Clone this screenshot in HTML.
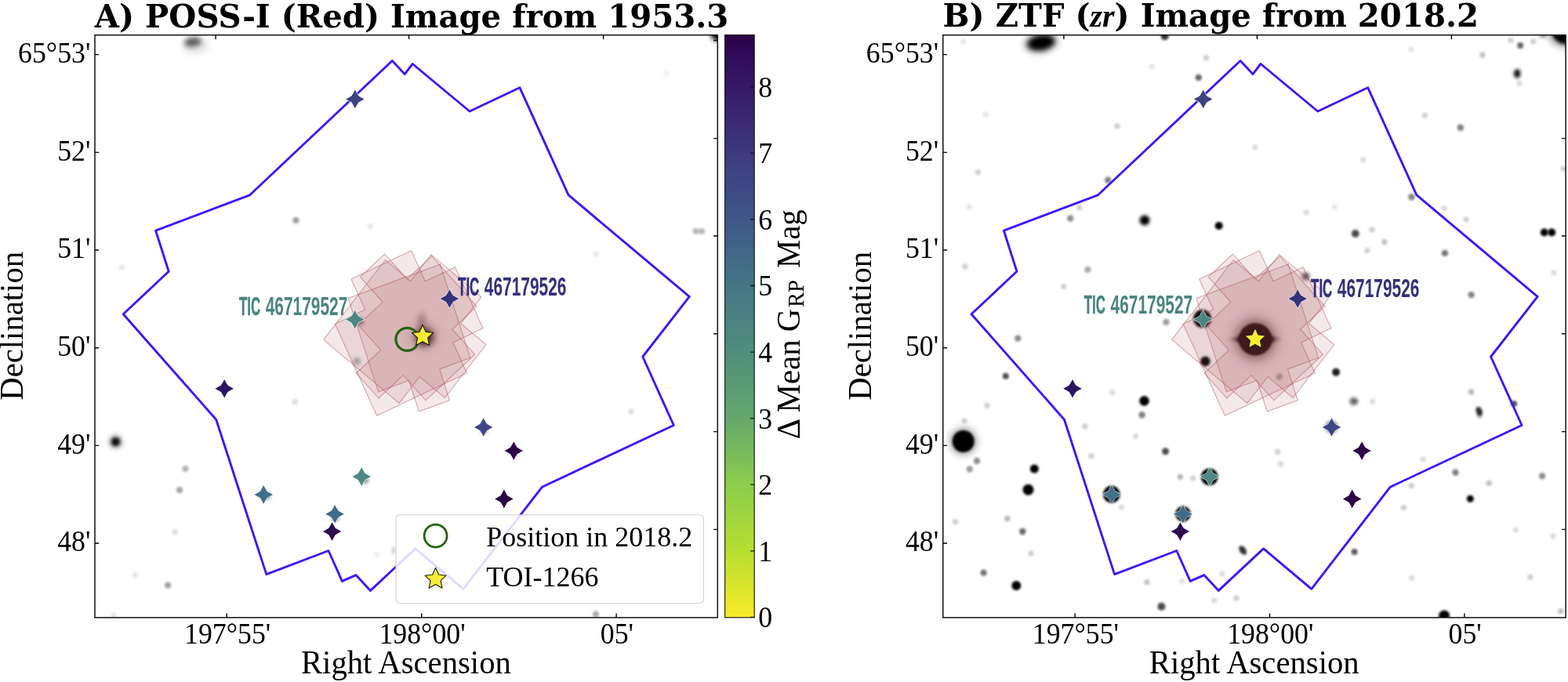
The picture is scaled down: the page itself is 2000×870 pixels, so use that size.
<!DOCTYPE html>
<html lang="en">
<head>
<meta charset="utf-8">
<title>TOI-1266: POSS-I and ZTF images</title>
<style>
html,body{margin:0;padding:0;background:#fff;}
body{width:2000px;height:870px;overflow:hidden;}
svg{display:block;}
</style>
</head>
<body>
<svg width="2000" height="870" viewBox="0 0 2000 870" role="img" aria-label="TOI-1266 finder charts">
<defs>
<filter id="b0_8" x="-100%" y="-100%" width="300%" height="300%"><feGaussianBlur stdDeviation="0.8"/></filter>
<filter id="b1_2" x="-100%" y="-100%" width="300%" height="300%"><feGaussianBlur stdDeviation="1.2"/></filter>
<filter id="b1_6" x="-100%" y="-100%" width="300%" height="300%"><feGaussianBlur stdDeviation="1.6"/></filter>
<filter id="b1_8" x="-100%" y="-100%" width="300%" height="300%"><feGaussianBlur stdDeviation="1.8"/></filter>
<filter id="b2_2" x="-100%" y="-100%" width="300%" height="300%"><feGaussianBlur stdDeviation="2.2"/></filter>
<filter id="b3" x="-100%" y="-100%" width="300%" height="300%"><feGaussianBlur stdDeviation="3"/></filter>
<filter id="b4_5" x="-100%" y="-100%" width="300%" height="300%"><feGaussianBlur stdDeviation="4.5"/></filter>
<filter id="b7" x="-100%" y="-100%" width="300%" height="300%"><feGaussianBlur stdDeviation="7"/></filter>
<clipPath id="cl"><rect x="121.0" y="44.7" width="794.3" height="743.0999999999999"/></clipPath>
<clipPath id="cr"><rect x="1202.8" y="44.7" width="794.3" height="743.0999999999999"/></clipPath>
<linearGradient id="cbg" x1="0" y1="0" x2="0" y2="1">
<stop offset="0.0000" stop-color="rgb(44,2,74)"/>
<stop offset="0.0442" stop-color="rgb(50,14,90)"/>
<stop offset="0.0898" stop-color="rgb(54,26,104)"/>
<stop offset="0.2035" stop-color="rgb(62,58,126)"/>
<stop offset="0.3173" stop-color="rgb(62,88,136)"/>
<stop offset="0.4311" stop-color="rgb(68,118,134)"/>
<stop offset="0.5449" stop-color="rgb(80,142,124)"/>
<stop offset="0.6587" stop-color="rgb(100,168,108)"/>
<stop offset="0.7724" stop-color="rgb(140,205,75)"/>
<stop offset="0.8293" stop-color="rgb(160,214,62)"/>
<stop offset="0.8862" stop-color="rgb(183,222,48)"/>
<stop offset="0.9431" stop-color="rgb(216,228,44)"/>
<stop offset="1.0000" stop-color="rgb(250,234,40)"/>
</linearGradient>
</defs>
<rect width="2000" height="870" fill="#fff"/>
<g id="left">
<g clip-path="url(#cl)">
<ellipse cx="246" cy="53.5" rx="11" ry="6" fill="#000" fill-opacity="0.6" filter="url(#b3)" transform="rotate(-8 246 53.5)"/>
<ellipse cx="249" cy="58" rx="16" ry="10" fill="#000" fill-opacity="0.12" filter="url(#b4_5)"/>
<ellipse cx="377.5" cy="281" rx="4" ry="4" fill="#000" fill-opacity="0.38" filter="url(#b1_6)"/>
<ellipse cx="916.5" cy="42.5" rx="10" ry="10" fill="#000" fill-opacity="1" filter="url(#b3)"/>
<ellipse cx="887.5" cy="295" rx="4" ry="4" fill="#000" fill-opacity="0.28" filter="url(#b1_6)"/>
<ellipse cx="895" cy="295" rx="4" ry="4" fill="#000" fill-opacity="0.28" filter="url(#b1_6)"/>
<ellipse cx="147.5" cy="563.5" rx="5.5" ry="5.5" fill="#000" fill-opacity="0.95" filter="url(#b2_2)"/>
<ellipse cx="147.5" cy="563.5" rx="9" ry="9" fill="#000" fill-opacity="0.3" filter="url(#b3)"/>
<ellipse cx="236.5" cy="598" rx="4" ry="4" fill="#000" fill-opacity="0.3" filter="url(#b1_6)"/>
<ellipse cx="229" cy="625" rx="4" ry="4" fill="#000" fill-opacity="0.36" filter="url(#b1_6)"/>
<ellipse cx="214" cy="746.5" rx="4" ry="4" fill="#000" fill-opacity="0.38" filter="url(#b1_6)"/>
<ellipse cx="760" cy="783.5" rx="4" ry="4" fill="#000" fill-opacity="0.35" filter="url(#b1_6)"/>
<ellipse cx="223.5" cy="678.5" rx="3.6" ry="3.6" fill="#000" fill-opacity="0.15" filter="url(#b1_6)"/>
<ellipse cx="376" cy="512.5" rx="3.6" ry="3.6" fill="#000" fill-opacity="0.15" filter="url(#b1_6)"/>
<ellipse cx="172.5" cy="733.5" rx="3.6" ry="3.6" fill="#000" fill-opacity="0.1" filter="url(#b1_6)"/>
<ellipse cx="145" cy="785" rx="3.6" ry="3.6" fill="#000" fill-opacity="0.1" filter="url(#b1_6)"/>
<ellipse cx="805" cy="525" rx="3.6" ry="3.6" fill="#000" fill-opacity="0.15" filter="url(#b1_6)"/>
<ellipse cx="850" cy="93.5" rx="3.6" ry="3.6" fill="#000" fill-opacity="0.06" filter="url(#b1_6)"/>
<ellipse cx="155.5" cy="341" rx="3.6" ry="3.6" fill="#000" fill-opacity="0.1" filter="url(#b1_6)"/>
<ellipse cx="481" cy="707" rx="3.6" ry="3.6" fill="#000" fill-opacity="0.06" filter="url(#b1_6)"/>
<ellipse cx="760" cy="324" rx="3.6" ry="3.6" fill="#000" fill-opacity="0.1" filter="url(#b1_6)"/>
<ellipse cx="472.5" cy="289" rx="3.6" ry="3.6" fill="#000" fill-opacity="0.1" filter="url(#b1_6)"/>
<ellipse cx="502" cy="702" rx="3" ry="5" fill="#000" fill-opacity="0.14" filter="url(#b1_6)"/>
<ellipse cx="455" cy="461" rx="5" ry="5" fill="#000" fill-opacity="0.3" filter="url(#b2_2)"/>
<ellipse cx="465" cy="612.5" rx="5" ry="5" fill="#000" fill-opacity="0.45" filter="url(#b2_2)"/>
<ellipse cx="427.5" cy="660" rx="5" ry="5" fill="#000" fill-opacity="0.45" filter="url(#b2_2)"/>
<ellipse cx="340" cy="632.5" rx="5" ry="5" fill="#000" fill-opacity="0.45" filter="url(#b2_2)"/>
<ellipse cx="617.5" cy="547.5" rx="5" ry="5" fill="#000" fill-opacity="0.4" filter="url(#b2_2)"/>
<ellipse cx="459" cy="410" rx="5" ry="5" fill="#000" fill-opacity="0.5" filter="url(#b2_2)"/>
<ellipse cx="541.5" cy="430" rx="11" ry="11" fill="#000" fill-opacity="1" filter="url(#b4_5)"/>
<ellipse cx="538" cy="410" rx="5" ry="12" fill="#000" fill-opacity="0.3" filter="url(#b3)"/>
<ellipse cx="540" cy="428" rx="18" ry="18" fill="#000" fill-opacity="0.15" filter="url(#b7)"/>
</g>
<g transform="translate(0 0)" fill="#9f484d" fill-opacity="0.116" stroke="#a8484f" stroke-opacity="0.45" stroke-width="1.1" stroke-linejoin="miter">
<polygon points="444.1,380.4 561.4,337.2 599.8,456.5 560.7,470.9 573.5,510.6 534.4,525.0 521.6,485.3 482.5,499.7"/>
<polygon points="447.9,356.0 524.6,319.8 542.3,358.8 580.6,340.7 616.1,418.7 577.8,436.9 595.5,475.9 480.6,530.2 427.3,413.2 465.7,395.0"/>
<polygon points="490.6,324.0 519.4,356.0 550.7,326.7 608.2,390.8 576.9,420.1 605.7,452.1 543.1,510.8 514.3,478.7 483.0,508.0 454.3,476.0 485.6,446.7 456.8,414.6 488.1,385.3 459.3,353.3"/>
<polygon points="412.8,433.3 491.5,331.5 523.6,358.6 549.8,324.7 614.0,378.8 587.8,412.7 619.9,439.7 567.4,507.5 535.3,480.5 509.1,514.4"/>
</g>
<polygon points="500.3,77.5 516.2,94.6 526.2,81.5 599.0,142.0 663.0,111.8 725.0,248.7 879.3,378.4 819.8,455.0 859.3,542.5 691.5,621.2 591.0,751.3 529.8,699.9 472.5,753.4 454.0,733.6 436.4,741.4 419.0,702.5 339.8,732.6 275.7,535.2 157.2,400.7 215.2,346.2 198.6,294.2 318.7,248.8" fill="none" stroke="#4015fa" stroke-width="2.9" stroke-linejoin="round"/>
<path d="M452.90,114.60 Q454.96,118.61 457.15,122.15 Q460.69,124.33 464.70,126.40 Q460.69,128.47 457.15,130.65 Q454.96,134.19 452.90,138.20 Q450.83,134.19 448.65,130.65 Q445.11,128.47 441.10,126.40 Q445.11,124.33 448.65,122.15 Q450.83,118.61 452.90,114.60Z" fill="#3d4282" stroke="#fff" stroke-opacity="0.8" stroke-width="1.3" stroke-linejoin="miter" paint-order="stroke"/>
<path d="M573.40,369.20 Q575.47,373.21 577.65,376.75 Q581.19,378.94 585.20,381.00 Q581.19,383.06 577.65,385.25 Q575.47,388.79 573.40,392.80 Q571.34,388.79 569.15,385.25 Q565.61,383.06 561.60,381.00 Q565.61,378.94 569.15,376.75 Q571.34,373.21 573.40,369.20Z" fill="#34307a" stroke="#fff" stroke-opacity="0.8" stroke-width="1.3" stroke-linejoin="miter" paint-order="stroke"/>
<path d="M452.70,395.80 Q454.76,399.81 456.95,403.35 Q460.49,405.54 464.50,407.60 Q460.49,409.67 456.95,411.85 Q454.76,415.39 452.70,419.40 Q450.63,415.39 448.45,411.85 Q444.91,409.67 440.90,407.60 Q444.91,405.54 448.45,403.35 Q450.63,399.81 452.70,395.80Z" fill="#4a8782" stroke="#fff" stroke-opacity="0.8" stroke-width="1.3" stroke-linejoin="miter" paint-order="stroke"/>
<path d="M286.20,484.00 Q288.26,488.01 290.45,491.55 Q293.99,493.74 298.00,495.80 Q293.99,497.87 290.45,500.05 Q288.26,503.59 286.20,507.60 Q284.13,503.59 281.95,500.05 Q278.41,497.87 274.40,495.80 Q278.41,493.74 281.95,491.55 Q284.13,488.01 286.20,484.00Z" fill="#2d1463" stroke="#fff" stroke-opacity="0.8" stroke-width="1.3" stroke-linejoin="miter" paint-order="stroke"/>
<path d="M616.70,533.20 Q618.77,537.21 620.95,540.75 Q624.49,542.93 628.50,545.00 Q624.49,547.07 620.95,549.25 Q618.77,552.79 616.70,556.80 Q614.63,552.79 612.45,549.25 Q608.91,547.07 604.90,545.00 Q608.91,542.93 612.45,540.75 Q614.63,537.21 616.70,533.20Z" fill="#3d4687" stroke="#fff" stroke-opacity="0.8" stroke-width="1.3" stroke-linejoin="miter" paint-order="stroke"/>
<path d="M655.30,563.30 Q657.37,567.31 659.55,570.85 Q663.09,573.03 667.10,575.10 Q663.09,577.16 659.55,579.35 Q657.37,582.89 655.30,586.90 Q653.24,582.89 651.05,579.35 Q647.51,577.16 643.50,575.10 Q647.51,573.03 651.05,570.85 Q653.24,567.31 655.30,563.30Z" fill="#2d0048" stroke="#fff" stroke-opacity="0.8" stroke-width="1.3" stroke-linejoin="miter" paint-order="stroke"/>
<path d="M642.90,624.60 Q644.97,628.61 647.15,632.15 Q650.69,634.33 654.70,636.40 Q650.69,638.47 647.15,640.65 Q644.97,644.19 642.90,648.20 Q640.84,644.19 638.65,640.65 Q635.11,638.47 631.10,636.40 Q635.11,634.33 638.65,632.15 Q640.84,628.61 642.90,624.60Z" fill="#2d0048" stroke="#fff" stroke-opacity="0.8" stroke-width="1.3" stroke-linejoin="miter" paint-order="stroke"/>
<path d="M461.20,596.30 Q463.26,600.31 465.45,603.85 Q468.99,606.03 473.00,608.10 Q468.99,610.16 465.45,612.35 Q463.26,615.89 461.20,619.90 Q459.13,615.89 456.95,612.35 Q453.41,610.16 449.40,608.10 Q453.41,606.03 456.95,603.85 Q459.13,600.31 461.20,596.30Z" fill="#4b8a84" stroke="#fff" stroke-opacity="0.8" stroke-width="1.3" stroke-linejoin="miter" paint-order="stroke"/>
<path d="M336.20,619.10 Q338.26,623.11 340.45,626.65 Q343.99,628.83 348.00,630.90 Q343.99,632.97 340.45,635.15 Q338.26,638.69 336.20,642.70 Q334.13,638.69 331.95,635.15 Q328.41,632.97 324.40,630.90 Q328.41,628.83 331.95,626.65 Q334.13,623.11 336.20,619.10Z" fill="#42708c" stroke="#fff" stroke-opacity="0.8" stroke-width="1.3" stroke-linejoin="miter" paint-order="stroke"/>
<path d="M427.10,643.90 Q429.16,647.91 431.35,651.45 Q434.89,653.63 438.90,655.70 Q434.89,657.76 431.35,659.95 Q429.16,663.49 427.10,667.50 Q425.03,663.49 422.85,659.95 Q419.31,657.76 415.30,655.70 Q419.31,653.63 422.85,651.45 Q425.03,647.91 427.10,643.90Z" fill="#406a8c" stroke="#fff" stroke-opacity="0.8" stroke-width="1.3" stroke-linejoin="miter" paint-order="stroke"/>
<path d="M423.60,666.30 Q425.66,670.31 427.85,673.85 Q431.39,676.03 435.40,678.10 Q431.39,680.16 427.85,682.35 Q425.66,685.89 423.60,689.90 Q421.53,685.89 419.35,682.35 Q415.81,680.16 411.80,678.10 Q415.81,676.03 419.35,673.85 Q421.53,670.31 423.60,666.30Z" fill="#2e0a55" stroke="#fff" stroke-opacity="0.8" stroke-width="1.3" stroke-linejoin="miter" paint-order="stroke"/>
<circle cx="519.4" cy="432.8" r="14.5" fill="none" stroke="#266312" stroke-width="3.2"/>
<polygon points="539.10,414.60 543.13,423.35 552.70,424.48 545.63,431.02 547.51,440.47 539.10,435.76 530.69,440.47 532.57,431.02 525.50,424.48 535.07,423.35" fill="#f6ec35" stroke="#1a1a1a" stroke-width="1.1" stroke-linejoin="round"/>
<text x="305.0" y="401.7" font-family="'Liberation Sans','DejaVu Sans',sans-serif" font-weight="bold" font-size="32.6" fill="#4a8580" xml:space="preserve"><tspan textLength="31.9" lengthAdjust="spacingAndGlyphs" stroke="#4a8580" stroke-width="0.5" stroke-linejoin="round">TIC </tspan><tspan x="338.7" textLength="104.7" lengthAdjust="spacingAndGlyphs">467179527</tspan></text>
<text x="584.1" y="376.9" font-family="'Liberation Sans','DejaVu Sans',sans-serif" font-weight="bold" font-size="32.6" fill="#342f7a" xml:space="preserve"><tspan textLength="31.9" lengthAdjust="spacingAndGlyphs" stroke="#342f7a" stroke-width="0.5" stroke-linejoin="round">TIC </tspan><tspan x="617.8" textLength="104.7" lengthAdjust="spacingAndGlyphs">467179526</tspan></text>
<rect x="505" y="656.8" width="392.4" height="112.80000000000007" rx="5" ry="5" fill="#fff" fill-opacity="0.84" stroke="#ccc" stroke-opacity="0.8" stroke-width="1.3"/>
<circle cx="555.6" cy="683.6" r="14.5" fill="none" stroke="#266312" stroke-width="2.8"/>
<polygon points="555.60,724.30 559.63,733.05 569.20,734.18 562.13,740.72 564.01,750.17 555.60,745.46 547.19,750.17 549.07,740.72 542.00,734.18 551.57,733.05" fill="#f6ec35" stroke="#1a1a1a" stroke-width="1.1" stroke-linejoin="round"/>
<text transform="translate(620.2 697.2) scale(1 1.02)" font-family="'Liberation Serif','DejaVu Serif',serif" font-size="36">Position in 2018.2</text>
<text transform="translate(620.2 747.7) scale(1 1.02)" font-family="'Liberation Serif','DejaVu Serif',serif" font-size="36">TOI-1266</text>
<path d="M289.3,787.8v-5.2 M537.7,787.8v-5.2 M786.1,787.8v-5.2 M275.1,44.7v5.2 M521.6,44.7v5.2 M769.6,44.7v5.2 M121.0,69.65h5.2 M121.0,194.35h5.2 M121.0,319.05h5.2 M121.0,443.7h5.2 M121.0,568.4h5.2 M121.0,693.05h5.2 M915.3,51.6h-5.2 M915.3,176.6h-5.2 M915.3,301.0h-5.2 M915.3,425.8h-5.2 M915.3,550.6h-5.2 M915.3,675.4h-5.2" stroke="#000" stroke-width="1.4" fill="none"/>
<rect x="121.0" y="44.7" width="794.3" height="743.1" fill="none" stroke="#111" stroke-width="1.5"/>
<g font-family="'Liberation Serif','DejaVu Serif',serif" fill="#000"><text transform="translate(115.4 79.90) scale(1 1.045)" text-anchor="end" font-size="35.8">65°53'</text>
<text transform="translate(115.4 204.60) scale(1 1.045)" text-anchor="end" font-size="35.8">52'</text>
<text transform="translate(115.4 329.30) scale(1 1.045)" text-anchor="end" font-size="35.8">51'</text>
<text transform="translate(115.4 453.95) scale(1 1.045)" text-anchor="end" font-size="35.8">50'</text>
<text transform="translate(115.4 578.65) scale(1 1.045)" text-anchor="end" font-size="35.8">49'</text>
<text transform="translate(115.4 703.30) scale(1 1.045)" text-anchor="end" font-size="35.8">48'</text>
<text transform="translate(290.1 821.4) scale(1 1.045)" text-anchor="middle" font-size="35.8">197°55'</text>
<text transform="translate(538.5 821.4) scale(1 1.045)" text-anchor="middle" font-size="35.8">198°00'</text>
<text transform="translate(786.9 821.4) scale(1 1.045)" text-anchor="middle" font-size="35.8">05'</text>
<text transform="translate(517.9 858.5) scale(1 1.03)" text-anchor="middle" font-size="40.7">Right Ascension</text>
<text transform="translate(29.3 415.8) rotate(-90) scale(1 1.03)" text-anchor="middle" font-size="40.7">Declination</text></g>
<text x="120.8" y="35.4" font-family="'DejaVu Serif','Liberation Serif',serif" font-weight="bold" font-size="40.25">A) POSS-I (Red) Image from 1953.3</text>
</g>
<g id="cbar">
<rect x="924.6" y="44.6" width="37.6" height="743.1" fill="url(#cbg)" stroke="#000" stroke-opacity="0.75" stroke-width="1.4"/>
<path d="M962.2,787.3h-5 M962.2,702.8h-5 M962.2,618.2h-5 M962.2,533.6h-5 M962.2,449.1h-5 M962.2,364.5h-5 M962.2,280.0h-5 M962.2,195.4h-5 M962.2,110.9h-5" stroke="#111" stroke-width="1.3" fill="none"/>
<g font-family="'Liberation Serif','DejaVu Serif',serif" font-size="35.8">
<text transform="translate(967.2 800.20) scale(1 1.045)">0</text>
<text transform="translate(967.2 715.65) scale(1 1.045)">1</text>
<text transform="translate(967.2 631.10) scale(1 1.045)">2</text>
<text transform="translate(967.2 546.55) scale(1 1.045)">3</text>
<text transform="translate(967.2 462.00) scale(1 1.045)">4</text>
<text transform="translate(967.2 377.45) scale(1 1.045)">5</text>
<text transform="translate(967.2 292.90) scale(1 1.045)">6</text>
<text transform="translate(967.2 208.35) scale(1 1.045)">7</text>
<text transform="translate(967.2 123.80) scale(1 1.045)">8</text>
</g>
<text transform="translate(1020.2 413.8) rotate(-90) scale(1 1.03)" font-family="'Liberation Serif','DejaVu Serif',serif" font-size="40.7" text-anchor="middle">Δ Mean G<tspan font-size="28.5" dy="5" dx="2">RP</tspan><tspan dy="-5" dx="5"> Mag</tspan></text>
</g>
<g id="right">
<g clip-path="url(#cr)">
<ellipse cx="1327.9" cy="54.4" rx="17" ry="9.5" fill="#000" fill-opacity="1" filter="url(#b3)" transform="rotate(-10 1327.9 54.4)"/>
<ellipse cx="1327.9" cy="54.4" rx="22" ry="13" fill="#000" fill-opacity="0.35" filter="url(#b4_5)" transform="rotate(-10 1327.9 54.4)"/>
<ellipse cx="1460" cy="281" rx="6.5" ry="6.5" fill="#000" fill-opacity="1" filter="url(#b2_2)"/>
<ellipse cx="1554.7" cy="288" rx="5" ry="5" fill="#000" fill-opacity="1" filter="url(#b1_6)"/>
<ellipse cx="1999" cy="42" rx="19" ry="14.5" fill="#000" fill-opacity="1" filter="url(#b2_2)"/>
<ellipse cx="1999" cy="42" rx="25" ry="20" fill="#000" fill-opacity="0.3" filter="url(#b4_5)"/>
<ellipse cx="1968" cy="45" rx="4.5" ry="3" fill="#000" fill-opacity="0.45" filter="url(#b2_2)"/>
<ellipse cx="1935.2" cy="93.8" rx="4.3" ry="5.8" fill="#000" fill-opacity="0.95" filter="url(#b2_2)"/>
<ellipse cx="1939.2" cy="58.1" rx="4" ry="4" fill="#000" fill-opacity="0.6" filter="url(#b1_6)"/>
<ellipse cx="1969.8" cy="296.5" rx="5" ry="5" fill="#000" fill-opacity="1" filter="url(#b1_6)"/>
<ellipse cx="1979.2" cy="296.5" rx="5" ry="5" fill="#000" fill-opacity="1" filter="url(#b1_6)"/>
<ellipse cx="1459.5" cy="511.4" rx="6.3" ry="6.3" fill="#000" fill-opacity="1" filter="url(#b1_6)"/>
<ellipse cx="1537.4" cy="460.9" rx="6.3" ry="6.3" fill="#000" fill-opacity="1" filter="url(#b1_6)"/>
<ellipse cx="1704.1" cy="474.7" rx="5" ry="5" fill="#000" fill-opacity="0.9" filter="url(#b1_6)"/>
<ellipse cx="1726.5" cy="512" rx="5" ry="5" fill="#000" fill-opacity="0.6" filter="url(#b2_2)"/>
<ellipse cx="1665.6" cy="352.5" rx="5" ry="5" fill="#000" fill-opacity="0.65" filter="url(#b2_2)"/>
<ellipse cx="1228.7" cy="563" rx="14" ry="14" fill="#000" fill-opacity="1" filter="url(#b1_8)"/>
<ellipse cx="1228.7" cy="563" rx="18" ry="18" fill="#000" fill-opacity="0.3" filter="url(#b4_5)"/>
<ellipse cx="1319.3" cy="598.1" rx="5.5" ry="5.5" fill="#000" fill-opacity="1" filter="url(#b1_6)"/>
<ellipse cx="1311.5" cy="624.8" rx="7" ry="7" fill="#000" fill-opacity="1" filter="url(#b1_6)"/>
<ellipse cx="1296.3" cy="747" rx="6" ry="6" fill="#000" fill-opacity="1" filter="url(#b1_6)"/>
<ellipse cx="1875.3" cy="636.2" rx="4.5" ry="4.5" fill="#000" fill-opacity="1" filter="url(#b1_6)"/>
<ellipse cx="1842.1" cy="785.5" rx="7" ry="7" fill="#000" fill-opacity="1" filter="url(#b1_6)"/>
<ellipse cx="1533.6" cy="406.6" rx="11.5" ry="11.5" fill="#000" fill-opacity="1" filter="url(#b1_6)"/>
<ellipse cx="1542.7" cy="608.3" rx="10.8" ry="10.8" fill="#000" fill-opacity="1" filter="url(#b1_6)"/>
<ellipse cx="1509" cy="655.6" rx="9.8" ry="9.8" fill="#000" fill-opacity="1" filter="url(#b1_6)"/>
<ellipse cx="1417.8" cy="630.6" rx="10.8" ry="10.8" fill="#000" fill-opacity="1" filter="url(#b1_6)"/>
<ellipse cx="1698.5" cy="544.6" rx="7.5" ry="7.5" fill="#000" fill-opacity="0.6" filter="url(#b2_2)"/>
<ellipse cx="1886.6" cy="524.4" rx="4" ry="6" fill="#000" fill-opacity="0.8" filter="url(#b1_6)" transform="rotate(-20 1886.6 524.4)"/>
<ellipse cx="1931.1" cy="514.9" rx="4" ry="4" fill="#000" fill-opacity="0.7" filter="url(#b1_6)"/>
<ellipse cx="1585.2" cy="702" rx="4" ry="6.5" fill="#000" fill-opacity="0.8" filter="url(#b1_6)" transform="rotate(-35 1585.2 702)"/>
<ellipse cx="1486.5" cy="575.8" rx="4.5" ry="4.5" fill="#000" fill-opacity="0.7" filter="url(#b1_6)"/>
<ellipse cx="1481.4" cy="773.7" rx="5" ry="5" fill="#000" fill-opacity="0.7" filter="url(#b1_6)"/>
<ellipse cx="1727.6" cy="704" rx="4" ry="4" fill="#000" fill-opacity="0.65" filter="url(#b1_6)"/>
<ellipse cx="1282.8" cy="479.8" rx="4" ry="4" fill="#000" fill-opacity="0.7" filter="url(#b1_6)"/>
<ellipse cx="1728.8" cy="298" rx="5" ry="5" fill="#000" fill-opacity="0.7" filter="url(#b1_6)"/>
<ellipse cx="1485.7" cy="46.3" rx="5" ry="5" fill="#000" fill-opacity="0.8" filter="url(#b1_6)"/>
<ellipse cx="1601.2" cy="432.8" rx="21.3" ry="20.6" fill="#000" fill-opacity="1" filter="url(#b1_2)"/>
<ellipse cx="1601.2" cy="432.8" rx="24.5" ry="7.5" fill="#000" fill-opacity="1" filter="url(#b2_2)"/>
<ellipse cx="1601.2" cy="432.8" rx="33" ry="3" fill="#000" fill-opacity="0.5" filter="url(#b2_2)"/>
<ellipse cx="1601.2" cy="432.8" rx="25" ry="25" fill="#000" fill-opacity="0.35" filter="url(#b4_5)"/>
<ellipse cx="1601.2" cy="432.8" rx="33" ry="33" fill="#000" fill-opacity="0.15" filter="url(#b7)"/>
<ellipse cx="1413.2" cy="229.7" rx="4.2" ry="4.2" fill="#000" fill-opacity="0.5" filter="url(#b1_6)"/>
<ellipse cx="1365.2" cy="278.5" rx="4.2" ry="4.2" fill="#000" fill-opacity="0.45" filter="url(#b1_6)"/>
<ellipse cx="1528.8" cy="98.9" rx="4.2" ry="4.2" fill="#000" fill-opacity="0.6" filter="url(#b1_6)"/>
<ellipse cx="1862.8" cy="162.7" rx="4.2" ry="4.2" fill="#000" fill-opacity="0.5" filter="url(#b1_6)"/>
<ellipse cx="1800.4" cy="251.2" rx="4.2" ry="4.2" fill="#000" fill-opacity="0.5" filter="url(#b1_6)"/>
<ellipse cx="1298.3" cy="431.6" rx="4.2" ry="4.2" fill="#000" fill-opacity="0.45" filter="url(#b1_6)"/>
<ellipse cx="1387.4" cy="343.9" rx="4.2" ry="4.2" fill="#000" fill-opacity="0.35" filter="url(#b1_6)"/>
<ellipse cx="1456.6" cy="529.3" rx="4.2" ry="4.2" fill="#000" fill-opacity="0.5" filter="url(#b1_6)"/>
<ellipse cx="1842.9" cy="322.9" rx="4.2" ry="4.2" fill="#000" fill-opacity="0.55" filter="url(#b1_6)"/>
<ellipse cx="1876.6" cy="376.1" rx="4.2" ry="4.2" fill="#000" fill-opacity="0.5" filter="url(#b1_6)"/>
<ellipse cx="1246" cy="588" rx="4.2" ry="4.2" fill="#000" fill-opacity="0.45" filter="url(#b1_6)"/>
<ellipse cx="1236.8" cy="598.4" rx="4.2" ry="4.2" fill="#000" fill-opacity="0.4" filter="url(#b1_6)"/>
<ellipse cx="1304.3" cy="678" rx="4.2" ry="4.2" fill="#000" fill-opacity="0.6" filter="url(#b1_6)"/>
<ellipse cx="1254.6" cy="730.6" rx="4.2" ry="4.2" fill="#000" fill-opacity="0.55" filter="url(#b1_6)"/>
<ellipse cx="1856.5" cy="602.7" rx="4.2" ry="4.2" fill="#000" fill-opacity="0.5" filter="url(#b1_6)"/>
<ellipse cx="1967.1" cy="607.2" rx="4.2" ry="4.2" fill="#000" fill-opacity="0.45" filter="url(#b1_6)"/>
<ellipse cx="1487.4" cy="410.9" rx="4.2" ry="4.2" fill="#000" fill-opacity="0.4" filter="url(#b1_6)"/>
<ellipse cx="1631.7" cy="480.4" rx="4.2" ry="4.2" fill="#000" fill-opacity="0.3" filter="url(#b1_6)"/>
<ellipse cx="1376.7" cy="264.7" rx="3.6" ry="3.6" fill="#000" fill-opacity="0.2" filter="url(#b1_6)"/>
<ellipse cx="1247.4" cy="219.6" rx="3.6" ry="3.6" fill="#000" fill-opacity="0.2" filter="url(#b1_6)"/>
<ellipse cx="1257.5" cy="146.3" rx="3.6" ry="3.6" fill="#000" fill-opacity="0.1" filter="url(#b1_6)"/>
<ellipse cx="1236" cy="264" rx="3.6" ry="3.6" fill="#000" fill-opacity="0.1" filter="url(#b1_6)"/>
<ellipse cx="1425" cy="160.7" rx="3.6" ry="3.6" fill="#000" fill-opacity="0.2" filter="url(#b1_6)"/>
<ellipse cx="1228.7" cy="53" rx="3.6" ry="3.6" fill="#000" fill-opacity="0.1" filter="url(#b1_6)"/>
<ellipse cx="1538.3" cy="73.9" rx="3.6" ry="3.6" fill="#000" fill-opacity="0.2" filter="url(#b1_6)"/>
<ellipse cx="1601" cy="188" rx="3.6" ry="3.6" fill="#000" fill-opacity="0.15" filter="url(#b1_6)"/>
<ellipse cx="1666" cy="271" rx="3.6" ry="3.6" fill="#000" fill-opacity="0.15" filter="url(#b1_6)"/>
<ellipse cx="1702" cy="264" rx="3.6" ry="3.6" fill="#000" fill-opacity="0.1" filter="url(#b1_6)"/>
<ellipse cx="1469" cy="85" rx="3.6" ry="3.6" fill="#000" fill-opacity="0.1" filter="url(#b1_6)"/>
<ellipse cx="1817.6" cy="147.2" rx="3.6" ry="3.6" fill="#000" fill-opacity="0.2" filter="url(#b1_6)"/>
<ellipse cx="1890.9" cy="70.2" rx="3.6" ry="3.6" fill="#000" fill-opacity="0.25" filter="url(#b1_6)"/>
<ellipse cx="1738.6" cy="203.8" rx="3.6" ry="3.6" fill="#000" fill-opacity="0.15" filter="url(#b1_6)"/>
<ellipse cx="1800" cy="63" rx="3.6" ry="3.6" fill="#000" fill-opacity="0.12" filter="url(#b1_6)"/>
<ellipse cx="1926.8" cy="51.5" rx="3.6" ry="3.6" fill="#000" fill-opacity="0.2" filter="url(#b1_6)"/>
<ellipse cx="1955.6" cy="53" rx="3.6" ry="3.6" fill="#000" fill-opacity="0.2" filter="url(#b1_6)"/>
<ellipse cx="1842" cy="265.6" rx="3.6" ry="3.6" fill="#000" fill-opacity="0.15" filter="url(#b1_6)"/>
<ellipse cx="1870" cy="280" rx="3.6" ry="3.6" fill="#000" fill-opacity="0.2" filter="url(#b1_6)"/>
<ellipse cx="1938" cy="106.7" rx="3.6" ry="3.6" fill="#000" fill-opacity="0.15" filter="url(#b1_6)"/>
<ellipse cx="1994" cy="215" rx="3.6" ry="3.6" fill="#000" fill-opacity="0.2" filter="url(#b1_6)"/>
<ellipse cx="1356.6" cy="365.5" rx="3.6" ry="3.6" fill="#000" fill-opacity="0.2" filter="url(#b1_6)"/>
<ellipse cx="1231" cy="340.2" rx="3.6" ry="3.6" fill="#000" fill-opacity="0.2" filter="url(#b1_6)"/>
<ellipse cx="1259" cy="517.2" rx="3.6" ry="3.6" fill="#000" fill-opacity="0.2" filter="url(#b1_6)"/>
<ellipse cx="1418.4" cy="500.5" rx="3.6" ry="3.6" fill="#000" fill-opacity="0.15" filter="url(#b1_6)"/>
<ellipse cx="1876.6" cy="500" rx="3.6" ry="3.6" fill="#000" fill-opacity="0.3" filter="url(#b1_6)"/>
<ellipse cx="1766" cy="308.6" rx="3.6" ry="3.6" fill="#000" fill-opacity="0.25" filter="url(#b1_6)"/>
<ellipse cx="1750" cy="293" rx="3.6" ry="3.6" fill="#000" fill-opacity="0.2" filter="url(#b1_6)"/>
<ellipse cx="1743.8" cy="319.5" rx="3.6" ry="3.6" fill="#000" fill-opacity="0.2" filter="url(#b1_6)"/>
<ellipse cx="1982" cy="348" rx="3.6" ry="3.6" fill="#000" fill-opacity="0.15" filter="url(#b1_6)"/>
<ellipse cx="1750.7" cy="512" rx="3.6" ry="3.6" fill="#000" fill-opacity="0.15" filter="url(#b1_6)"/>
<ellipse cx="1730" cy="512" rx="3.6" ry="3.6" fill="#000" fill-opacity="0.15" filter="url(#b1_6)"/>
<ellipse cx="1284.8" cy="661.6" rx="3.6" ry="3.6" fill="#000" fill-opacity="0.3" filter="url(#b1_6)"/>
<ellipse cx="1218.7" cy="665.6" rx="3.6" ry="3.6" fill="#000" fill-opacity="0.2" filter="url(#b1_6)"/>
<ellipse cx="1315" cy="706" rx="3.6" ry="3.6" fill="#000" fill-opacity="0.2" filter="url(#b1_6)"/>
<ellipse cx="1463" cy="742.6" rx="3.6" ry="3.6" fill="#000" fill-opacity="0.25" filter="url(#b1_6)"/>
<ellipse cx="1384" cy="543.8" rx="3.6" ry="3.6" fill="#000" fill-opacity="0.2" filter="url(#b1_6)"/>
<ellipse cx="1448.6" cy="556.4" rx="3.6" ry="3.6" fill="#000" fill-opacity="0.15" filter="url(#b1_6)"/>
<ellipse cx="1392" cy="581.7" rx="3.6" ry="3.6" fill="#000" fill-opacity="0.2" filter="url(#b1_6)"/>
<ellipse cx="1430.5" cy="647" rx="3.6" ry="3.6" fill="#000" fill-opacity="0.15" filter="url(#b1_6)"/>
<ellipse cx="1230" cy="537" rx="3.6" ry="3.6" fill="#000" fill-opacity="0.2" filter="url(#b1_6)"/>
<ellipse cx="1505.4" cy="608.3" rx="3.6" ry="3.6" fill="#000" fill-opacity="0.3" filter="url(#b1_6)"/>
<ellipse cx="1521.8" cy="610" rx="3.6" ry="3.6" fill="#000" fill-opacity="0.2" filter="url(#b1_6)"/>
<ellipse cx="1629.5" cy="576.4" rx="3.6" ry="3.6" fill="#000" fill-opacity="0.2" filter="url(#b1_6)"/>
<ellipse cx="1633.4" cy="592.2" rx="3.6" ry="3.6" fill="#000" fill-opacity="0.15" filter="url(#b1_6)"/>
<ellipse cx="1577" cy="763" rx="3.6" ry="3.6" fill="#000" fill-opacity="0.2" filter="url(#b1_6)"/>
<ellipse cx="1548.7" cy="766" rx="3.6" ry="3.6" fill="#000" fill-opacity="0.15" filter="url(#b1_6)"/>
<ellipse cx="1559" cy="731.9" rx="3.6" ry="3.6" fill="#000" fill-opacity="0.15" filter="url(#b1_6)"/>
<ellipse cx="1507.8" cy="741.4" rx="3.6" ry="3.6" fill="#000" fill-opacity="0.12" filter="url(#b1_6)"/>
<ellipse cx="1899.3" cy="616.4" rx="3.6" ry="3.6" fill="#000" fill-opacity="0.25" filter="url(#b1_6)"/>
<ellipse cx="1800.3" cy="619.7" rx="3.6" ry="3.6" fill="#000" fill-opacity="0.2" filter="url(#b1_6)"/>
<ellipse cx="1790.4" cy="647.5" rx="3.6" ry="3.6" fill="#000" fill-opacity="0.2" filter="url(#b1_6)"/>
<ellipse cx="1933.3" cy="676" rx="3.6" ry="3.6" fill="#000" fill-opacity="0.15" filter="url(#b1_6)"/>
<ellipse cx="1951.9" cy="736.3" rx="3.6" ry="3.6" fill="#000" fill-opacity="0.2" filter="url(#b1_6)"/>
<ellipse cx="1800.6" cy="737.2" rx="3.6" ry="3.6" fill="#000" fill-opacity="0.15" filter="url(#b1_6)"/>
<ellipse cx="1990.8" cy="779.7" rx="3.6" ry="3.6" fill="#000" fill-opacity="0.25" filter="url(#b1_6)"/>
<ellipse cx="1981" cy="684" rx="3.6" ry="3.6" fill="#000" fill-opacity="0.15" filter="url(#b1_6)"/>
<ellipse cx="1887" cy="530" rx="3.6" ry="3.6" fill="#000" fill-opacity="0.3" filter="url(#b1_6)"/>
<ellipse cx="1815" cy="586" rx="3.6" ry="3.6" fill="#000" fill-opacity="0.15" filter="url(#b1_6)"/>
</g>
<g transform="translate(1081.8 0)" fill="#9f484d" fill-opacity="0.116" stroke="#a8484f" stroke-opacity="0.45" stroke-width="1.1" stroke-linejoin="miter">
<polygon points="444.1,380.4 561.4,337.2 599.8,456.5 560.7,470.9 573.5,510.6 534.4,525.0 521.6,485.3 482.5,499.7"/>
<polygon points="447.9,356.0 524.6,319.8 542.3,358.8 580.6,340.7 616.1,418.7 577.8,436.9 595.5,475.9 480.6,530.2 427.3,413.2 465.7,395.0"/>
<polygon points="490.6,324.0 519.4,356.0 550.7,326.7 608.2,390.8 576.9,420.1 605.7,452.1 543.1,510.8 514.3,478.7 483.0,508.0 454.3,476.0 485.6,446.7 456.8,414.6 488.1,385.3 459.3,353.3"/>
<polygon points="412.8,433.3 491.5,331.5 523.6,358.6 549.8,324.7 614.0,378.8 587.8,412.7 619.9,439.7 567.4,507.5 535.3,480.5 509.1,514.4"/>
</g>
<polygon points="1582.1,77.5 1598.0,94.6 1608.0,81.5 1680.8,142.0 1744.8,111.8 1806.8,248.7 1961.1,378.4 1901.6,455.0 1941.1,542.5 1773.3,621.2 1672.8,751.3 1611.6,699.9 1554.3,753.4 1535.8,733.6 1518.2,741.4 1500.8,702.5 1421.6,732.6 1357.5,535.2 1239.0,400.7 1297.0,346.2 1280.4,294.2 1400.5,248.8" fill="none" stroke="#4015fa" stroke-width="2.9" stroke-linejoin="round"/>
<path d="M1534.70,114.60 Q1536.77,118.61 1538.95,122.15 Q1542.49,124.33 1546.50,126.40 Q1542.49,128.47 1538.95,130.65 Q1536.77,134.19 1534.70,138.20 Q1532.63,134.19 1530.45,130.65 Q1526.91,128.47 1522.90,126.40 Q1526.91,124.33 1530.45,122.15 Q1532.63,118.61 1534.70,114.60Z" fill="#3d4282" stroke="#fff" stroke-opacity="0.8" stroke-width="1.3" stroke-linejoin="miter" paint-order="stroke"/>
<path d="M1655.20,369.20 Q1657.27,373.21 1659.45,376.75 Q1662.99,378.94 1667.00,381.00 Q1662.99,383.06 1659.45,385.25 Q1657.27,388.79 1655.20,392.80 Q1653.13,388.79 1650.95,385.25 Q1647.41,383.06 1643.40,381.00 Q1647.41,378.94 1650.95,376.75 Q1653.13,373.21 1655.20,369.20Z" fill="#34307a" stroke="#fff" stroke-opacity="0.8" stroke-width="1.3" stroke-linejoin="miter" paint-order="stroke"/>
<path d="M1534.50,395.80 Q1536.57,399.81 1538.75,403.35 Q1542.29,405.54 1546.30,407.60 Q1542.29,409.67 1538.75,411.85 Q1536.57,415.39 1534.50,419.40 Q1532.43,415.39 1530.25,411.85 Q1526.71,409.67 1522.70,407.60 Q1526.71,405.54 1530.25,403.35 Q1532.43,399.81 1534.50,395.80Z" fill="#4a8782" stroke="#fff" stroke-opacity="0.8" stroke-width="1.3" stroke-linejoin="miter" paint-order="stroke"/>
<path d="M1368.00,484.00 Q1370.07,488.01 1372.25,491.55 Q1375.79,493.74 1379.80,495.80 Q1375.79,497.87 1372.25,500.05 Q1370.07,503.59 1368.00,507.60 Q1365.93,503.59 1363.75,500.05 Q1360.21,497.87 1356.20,495.80 Q1360.21,493.74 1363.75,491.55 Q1365.93,488.01 1368.00,484.00Z" fill="#2d1463" stroke="#fff" stroke-opacity="0.8" stroke-width="1.3" stroke-linejoin="miter" paint-order="stroke"/>
<path d="M1698.50,533.20 Q1700.57,537.21 1702.75,540.75 Q1706.29,542.93 1710.30,545.00 Q1706.29,547.07 1702.75,549.25 Q1700.57,552.79 1698.50,556.80 Q1696.43,552.79 1694.25,549.25 Q1690.71,547.07 1686.70,545.00 Q1690.71,542.93 1694.25,540.75 Q1696.43,537.21 1698.50,533.20Z" fill="#3d4687" stroke="#fff" stroke-opacity="0.8" stroke-width="1.3" stroke-linejoin="miter" paint-order="stroke"/>
<path d="M1737.10,563.30 Q1739.17,567.31 1741.35,570.85 Q1744.89,573.03 1748.90,575.10 Q1744.89,577.16 1741.35,579.35 Q1739.17,582.89 1737.10,586.90 Q1735.04,582.89 1732.85,579.35 Q1729.31,577.16 1725.30,575.10 Q1729.31,573.03 1732.85,570.85 Q1735.04,567.31 1737.10,563.30Z" fill="#2d0048" stroke="#fff" stroke-opacity="0.8" stroke-width="1.3" stroke-linejoin="miter" paint-order="stroke"/>
<path d="M1724.70,624.60 Q1726.77,628.61 1728.95,632.15 Q1732.49,634.33 1736.50,636.40 Q1732.49,638.47 1728.95,640.65 Q1726.77,644.19 1724.70,648.20 Q1722.63,644.19 1720.45,640.65 Q1716.91,638.47 1712.90,636.40 Q1716.91,634.33 1720.45,632.15 Q1722.63,628.61 1724.70,624.60Z" fill="#2d0048" stroke="#fff" stroke-opacity="0.8" stroke-width="1.3" stroke-linejoin="miter" paint-order="stroke"/>
<path d="M1543.00,596.30 Q1545.07,600.31 1547.25,603.85 Q1550.79,606.03 1554.80,608.10 Q1550.79,610.16 1547.25,612.35 Q1545.07,615.89 1543.00,619.90 Q1540.93,615.89 1538.75,612.35 Q1535.21,610.16 1531.20,608.10 Q1535.21,606.03 1538.75,603.85 Q1540.93,600.31 1543.00,596.30Z" fill="#4b8a84" stroke="#fff" stroke-opacity="0.8" stroke-width="1.3" stroke-linejoin="miter" paint-order="stroke"/>
<path d="M1418.00,619.10 Q1420.07,623.11 1422.25,626.65 Q1425.79,628.83 1429.80,630.90 Q1425.79,632.97 1422.25,635.15 Q1420.07,638.69 1418.00,642.70 Q1415.93,638.69 1413.75,635.15 Q1410.21,632.97 1406.20,630.90 Q1410.21,628.83 1413.75,626.65 Q1415.93,623.11 1418.00,619.10Z" fill="#42708c" stroke="#fff" stroke-opacity="0.8" stroke-width="1.3" stroke-linejoin="miter" paint-order="stroke"/>
<path d="M1508.90,643.90 Q1510.96,647.91 1513.15,651.45 Q1516.69,653.63 1520.70,655.70 Q1516.69,657.76 1513.15,659.95 Q1510.96,663.49 1508.90,667.50 Q1506.83,663.49 1504.65,659.95 Q1501.11,657.76 1497.10,655.70 Q1501.11,653.63 1504.65,651.45 Q1506.83,647.91 1508.90,643.90Z" fill="#406a8c" stroke="#fff" stroke-opacity="0.8" stroke-width="1.3" stroke-linejoin="miter" paint-order="stroke"/>
<path d="M1505.40,666.30 Q1507.46,670.31 1509.65,673.85 Q1513.19,676.03 1517.20,678.10 Q1513.19,680.16 1509.65,682.35 Q1507.46,685.89 1505.40,689.90 Q1503.33,685.89 1501.15,682.35 Q1497.61,680.16 1493.60,678.10 Q1497.61,676.03 1501.15,673.85 Q1503.33,670.31 1505.40,666.30Z" fill="#2e0a55" stroke="#fff" stroke-opacity="0.8" stroke-width="1.3" stroke-linejoin="miter" paint-order="stroke"/>
<polygon points="1601.00,418.20 1605.03,426.95 1614.60,428.08 1607.53,434.62 1609.41,444.07 1601.00,439.36 1592.59,444.07 1594.47,434.62 1587.40,428.08 1596.97,426.95" fill="#f6ec35" stroke="#1a1a1a" stroke-width="1.1" stroke-linejoin="round"/>
<text x="1382.8" y="400.3" font-family="'Liberation Sans','DejaVu Sans',sans-serif" font-weight="bold" font-size="32.6" fill="#4a8580" xml:space="preserve"><tspan textLength="31.9" lengthAdjust="spacingAndGlyphs" stroke="#4a8580" stroke-width="0.5" stroke-linejoin="round">TIC </tspan><tspan x="1416.5" textLength="104.7" lengthAdjust="spacingAndGlyphs">467179527</tspan></text>
<text x="1672.1" y="379.4" font-family="'Liberation Sans','DejaVu Sans',sans-serif" font-weight="bold" font-size="32.6" fill="#342f7a" xml:space="preserve"><tspan textLength="31.9" lengthAdjust="spacingAndGlyphs" stroke="#342f7a" stroke-width="0.5" stroke-linejoin="round">TIC </tspan><tspan x="1705.8" textLength="104.7" lengthAdjust="spacingAndGlyphs">467179526</tspan></text>
<path d="M1371.1,787.8v-5.2 M1619.5,787.8v-5.2 M1867.9,787.8v-5.2 M1356.9,44.7v5.2 M1603.4,44.7v5.2 M1851.4,44.7v5.2 M1202.8,69.65h5.2 M1202.8,194.35h5.2 M1202.8,319.05h5.2 M1202.8,443.7h5.2 M1202.8,568.4h5.2 M1202.8,693.05h5.2 M1997.1,51.6h-5.2 M1997.1,176.6h-5.2 M1997.1,301.0h-5.2 M1997.1,425.8h-5.2 M1997.1,550.6h-5.2 M1997.1,675.4h-5.2" stroke="#000" stroke-width="1.4" fill="none"/>
<rect x="1202.8" y="44.7" width="794.3" height="743.1" fill="none" stroke="#111" stroke-width="1.5"/>
<g font-family="'Liberation Serif','DejaVu Serif',serif" fill="#000"><text transform="translate(1197.2 79.90) scale(1 1.045)" text-anchor="end" font-size="35.8">65°53'</text>
<text transform="translate(1197.2 204.60) scale(1 1.045)" text-anchor="end" font-size="35.8">52'</text>
<text transform="translate(1197.2 329.30) scale(1 1.045)" text-anchor="end" font-size="35.8">51'</text>
<text transform="translate(1197.2 453.95) scale(1 1.045)" text-anchor="end" font-size="35.8">50'</text>
<text transform="translate(1197.2 578.65) scale(1 1.045)" text-anchor="end" font-size="35.8">49'</text>
<text transform="translate(1197.2 703.30) scale(1 1.045)" text-anchor="end" font-size="35.8">48'</text>
<text transform="translate(1371.9 821.4) scale(1 1.045)" text-anchor="middle" font-size="35.8">197°55'</text>
<text transform="translate(1620.3 821.4) scale(1 1.045)" text-anchor="middle" font-size="35.8">198°00'</text>
<text transform="translate(1868.7 821.4) scale(1 1.045)" text-anchor="middle" font-size="35.8">05'</text>
<text transform="translate(1599.7 858.5) scale(1 1.03)" text-anchor="middle" font-size="40.7">Right Ascension</text>
<text transform="translate(1111.1 415.8) rotate(-90) scale(1 1.03)" text-anchor="middle" font-size="40.7">Declination</text></g>
<text x="1202.6" y="33.65" font-family="'DejaVu Serif','Liberation Serif',serif" font-weight="bold" font-size="40.25" xml:space="preserve">B) ZTF (<tspan font-family="'Liberation Serif','DejaVu Serif',serif" font-style="italic" font-weight="bold" font-size="40" dx="-0.2">zr</tspan><tspan dx="0.0">) Image from 2018.2</tspan></text>
</g>
</svg>
</body>
</html>
